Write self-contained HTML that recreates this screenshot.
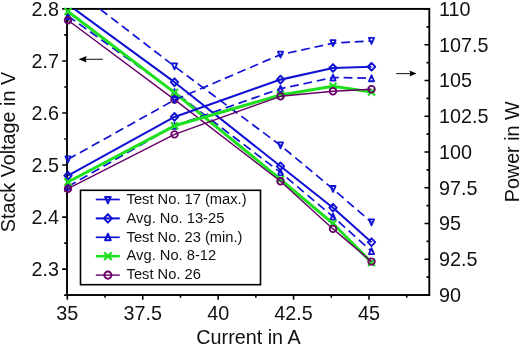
<!DOCTYPE html>
<html><head><meta charset="utf-8"><style>
html,body{margin:0;padding:0;background:#fff;}
svg{display:block;}
</style></head><body>
<svg width="520" height="345" viewBox="0 0 520 345">
<rect width="520" height="345" fill="#fff"/>
<defs><clipPath id="c"><rect x="67.0" y="8.9" width="362.3" height="286.1"/></clipPath></defs>
<rect x="67.0" y="8.9" width="362.3" height="286.1" fill="none" stroke="#000" stroke-width="1.9"/>
<path d="M67.0 295.17h-2.8 M67.0 269.15h-4.8 M67.0 243.12h-2.8 M67.0 217.10h-4.8 M67.0 191.07h-2.8 M67.0 165.05h-4.8 M67.0 139.03h-2.8 M67.0 113.00h-4.8 M67.0 86.97h-2.8 M67.0 60.95h-4.8 M67.0 34.92h-2.8 M67.0 8.90h-4.8 M429.3 295.00h-4.8 M429.3 277.12h-2.8 M429.3 259.25h-4.8 M429.3 241.38h-2.8 M429.3 223.50h-4.8 M429.3 205.62h-2.8 M429.3 187.75h-4.8 M429.3 169.88h-2.8 M429.3 152.00h-4.8 M429.3 134.12h-2.8 M429.3 116.25h-4.8 M429.3 98.38h-2.8 M429.3 80.50h-4.8 M429.3 62.62h-2.8 M429.3 44.75h-4.8 M429.3 26.88h-2.8 M429.3 9.00h-4.8 M67.30 295.0v4.8 M105.01 295.0v2.8 M142.73 295.0v4.8 M180.44 295.0v2.8 M218.15 295.0v4.8 M255.86 295.0v2.8 M293.57 295.0v4.8 M331.29 295.0v2.8 M369.00 295.0v4.8 M406.71 295.0v2.8" stroke="#000" stroke-width="1.6" fill="none"/>
<g clip-path="url(#c)"><polyline points="68.00,-15.50 174.50,66.30 280.50,145.40 333.00,189.00 371.50,222.30" fill="none" stroke="#1212d4" stroke-width="1.7" stroke-dasharray="8.8 4.8" stroke-linejoin="round"/></g>
<path d="M171.90 63.30H177.10L174.50 69.30Z" fill="none" stroke="#1212d4" stroke-width="1.8" stroke-linejoin="round"/>
<path d="M277.90 142.40H283.10L280.50 148.40Z" fill="none" stroke="#1212d4" stroke-width="1.8" stroke-linejoin="round"/>
<path d="M330.40 186.00H335.60L333.00 192.00Z" fill="none" stroke="#1212d4" stroke-width="1.8" stroke-linejoin="round"/>
<path d="M368.90 219.30H374.10L371.50 225.30Z" fill="none" stroke="#1212d4" stroke-width="1.8" stroke-linejoin="round"/>
<g clip-path="url(#c)"><polyline points="68.00,4.40 174.50,82.20 280.50,166.30 333.00,207.70 371.50,242.20" fill="none" stroke="#1212d4" stroke-width="2.1" stroke-linejoin="round"/></g>
<path d="M174.50 78.30L178.20 82.20L174.50 86.10L170.80 82.20Z" fill="none" stroke="#1212d4" stroke-width="1.9" stroke-linejoin="round"/>
<path d="M280.50 162.40L284.20 166.30L280.50 170.20L276.80 166.30Z" fill="none" stroke="#1212d4" stroke-width="1.9" stroke-linejoin="round"/>
<path d="M333.00 203.80L336.70 207.70L333.00 211.60L329.30 207.70Z" fill="none" stroke="#1212d4" stroke-width="1.9" stroke-linejoin="round"/>
<path d="M371.50 238.30L375.20 242.20L371.50 246.10L367.80 242.20Z" fill="none" stroke="#1212d4" stroke-width="1.9" stroke-linejoin="round"/>
<g clip-path="url(#c)"><polyline points="68.00,16.00 174.50,92.00 280.50,172.40 333.00,216.70 371.50,251.20" fill="none" stroke="#1212d4" stroke-width="1.7" stroke-dasharray="8.8 4.8" stroke-linejoin="round"/></g>
<path d="M65.40 19.00H70.60L68.00 13.00Z" fill="none" stroke="#1212d4" stroke-width="1.8" stroke-linejoin="round"/>
<path d="M171.90 95.00H177.10L174.50 89.00Z" fill="none" stroke="#1212d4" stroke-width="1.8" stroke-linejoin="round"/>
<path d="M277.90 175.40H283.10L280.50 169.40Z" fill="none" stroke="#1212d4" stroke-width="1.8" stroke-linejoin="round"/>
<path d="M330.40 219.70H335.60L333.00 213.70Z" fill="none" stroke="#1212d4" stroke-width="1.8" stroke-linejoin="round"/>
<path d="M368.90 254.20H374.10L371.50 248.20Z" fill="none" stroke="#1212d4" stroke-width="1.8" stroke-linejoin="round"/>
<g clip-path="url(#c)"><polyline points="68.00,11.50 174.50,92.60 280.50,179.30 333.00,223.50 371.50,262.50" fill="none" stroke="#1ee01e" stroke-width="3.0" stroke-linejoin="round"/></g>
<path d="M64.50 8.00L71.50 15.00M71.50 8.00L64.50 15.00" stroke="#1ee01e" stroke-width="2.1"/>
<path d="M171.00 89.10L178.00 96.10M178.00 89.10L171.00 96.10" stroke="#1ee01e" stroke-width="2.1"/>
<path d="M277.00 175.80L284.00 182.80M284.00 175.80L277.00 182.80" stroke="#1ee01e" stroke-width="2.1"/>
<path d="M329.50 220.00L336.50 227.00M336.50 220.00L329.50 227.00" stroke="#1ee01e" stroke-width="2.1"/>
<path d="M368.00 259.00L375.00 266.00M375.00 259.00L368.00 266.00" stroke="#1ee01e" stroke-width="2.1"/>
<g clip-path="url(#c)"><polyline points="68.00,20.20 174.50,99.60 280.50,181.30 333.00,228.90 371.50,261.60" fill="none" stroke="#680068" stroke-width="1.4" stroke-linejoin="round"/></g>
<circle cx="68.00" cy="20.20" r="3.3" fill="none" stroke="#680068" stroke-width="1.8"/>
<circle cx="174.50" cy="99.60" r="3.3" fill="none" stroke="#680068" stroke-width="1.8"/>
<circle cx="280.50" cy="181.30" r="3.3" fill="none" stroke="#680068" stroke-width="1.8"/>
<circle cx="333.00" cy="228.90" r="3.3" fill="none" stroke="#680068" stroke-width="1.8"/>
<circle cx="371.50" cy="261.60" r="3.3" fill="none" stroke="#680068" stroke-width="1.8"/>
<g clip-path="url(#c)"><polyline points="68.00,159.30 174.50,100.00 280.50,54.60 333.00,43.20 371.50,40.90" fill="none" stroke="#1212d4" stroke-width="1.7" stroke-dasharray="8.8 4.8" stroke-linejoin="round"/></g>
<path d="M65.40 156.30H70.60L68.00 162.30Z" fill="none" stroke="#1212d4" stroke-width="1.8" stroke-linejoin="round"/>
<path d="M171.90 97.00H177.10L174.50 103.00Z" fill="none" stroke="#1212d4" stroke-width="1.8" stroke-linejoin="round"/>
<path d="M277.90 51.60H283.10L280.50 57.60Z" fill="none" stroke="#1212d4" stroke-width="1.8" stroke-linejoin="round"/>
<path d="M330.40 40.20H335.60L333.00 46.20Z" fill="none" stroke="#1212d4" stroke-width="1.8" stroke-linejoin="round"/>
<path d="M368.90 37.90H374.10L371.50 43.90Z" fill="none" stroke="#1212d4" stroke-width="1.8" stroke-linejoin="round"/>
<g clip-path="url(#c)"><polyline points="68.00,175.70 174.50,116.90 280.50,79.60 333.00,68.00 371.50,66.75" fill="none" stroke="#1212d4" stroke-width="2.1" stroke-linejoin="round"/></g>
<path d="M68.00 171.80L71.70 175.70L68.00 179.60L64.30 175.70Z" fill="none" stroke="#1212d4" stroke-width="1.9" stroke-linejoin="round"/>
<path d="M174.50 113.00L178.20 116.90L174.50 120.80L170.80 116.90Z" fill="none" stroke="#1212d4" stroke-width="1.9" stroke-linejoin="round"/>
<path d="M280.50 75.70L284.20 79.60L280.50 83.50L276.80 79.60Z" fill="none" stroke="#1212d4" stroke-width="1.9" stroke-linejoin="round"/>
<path d="M333.00 64.10L336.70 68.00L333.00 71.90L329.30 68.00Z" fill="none" stroke="#1212d4" stroke-width="1.9" stroke-linejoin="round"/>
<path d="M371.50 62.85L375.20 66.75L371.50 70.65L367.80 66.75Z" fill="none" stroke="#1212d4" stroke-width="1.9" stroke-linejoin="round"/>
<g clip-path="url(#c)"><polyline points="68.00,186.50 174.50,125.80 280.50,88.70 333.00,77.50 371.50,78.25" fill="none" stroke="#1212d4" stroke-width="1.7" stroke-dasharray="8.8 4.8" stroke-linejoin="round"/></g>
<path d="M65.40 189.50H70.60L68.00 183.50Z" fill="none" stroke="#1212d4" stroke-width="1.8" stroke-linejoin="round"/>
<path d="M171.90 128.80H177.10L174.50 122.80Z" fill="none" stroke="#1212d4" stroke-width="1.8" stroke-linejoin="round"/>
<path d="M277.90 91.70H283.10L280.50 85.70Z" fill="none" stroke="#1212d4" stroke-width="1.8" stroke-linejoin="round"/>
<path d="M330.40 80.50H335.60L333.00 74.50Z" fill="none" stroke="#1212d4" stroke-width="1.8" stroke-linejoin="round"/>
<path d="M368.90 81.25H374.10L371.50 75.25Z" fill="none" stroke="#1212d4" stroke-width="1.8" stroke-linejoin="round"/>
<g clip-path="url(#c)"><polyline points="68.00,182.00 174.50,125.80 280.50,95.00 333.00,86.25 371.50,92.00" fill="none" stroke="#1ee01e" stroke-width="3.0" stroke-linejoin="round"/></g>
<path d="M64.50 178.50L71.50 185.50M71.50 178.50L64.50 185.50" stroke="#1ee01e" stroke-width="2.1"/>
<path d="M171.00 122.30L178.00 129.30M178.00 122.30L171.00 129.30" stroke="#1ee01e" stroke-width="2.1"/>
<path d="M277.00 91.50L284.00 98.50M284.00 91.50L277.00 98.50" stroke="#1ee01e" stroke-width="2.1"/>
<path d="M329.50 82.75L336.50 89.75M336.50 82.75L329.50 89.75" stroke="#1ee01e" stroke-width="2.1"/>
<path d="M368.00 88.50L375.00 95.50M375.00 88.50L368.00 95.50" stroke="#1ee01e" stroke-width="2.1"/>
<g clip-path="url(#c)"><polyline points="68.00,188.70 174.50,134.40 280.50,96.30 333.00,91.25 371.50,89.25" fill="none" stroke="#680068" stroke-width="1.4" stroke-linejoin="round"/></g>
<circle cx="68.00" cy="188.70" r="3.3" fill="none" stroke="#680068" stroke-width="1.8"/>
<circle cx="174.50" cy="134.40" r="3.3" fill="none" stroke="#680068" stroke-width="1.8"/>
<circle cx="280.50" cy="96.30" r="3.3" fill="none" stroke="#680068" stroke-width="1.8"/>
<circle cx="333.00" cy="91.25" r="3.3" fill="none" stroke="#680068" stroke-width="1.8"/>
<circle cx="371.50" cy="89.25" r="3.3" fill="none" stroke="#680068" stroke-width="1.8"/>
<g font-family="'Liberation Sans', Arial, sans-serif" font-size="19.75" fill="#111"><text x="59" y="15.70" text-anchor="end">2.8</text><text x="59" y="67.75" text-anchor="end">2.7</text><text x="59" y="119.80" text-anchor="end">2.6</text><text x="59" y="171.85" text-anchor="end">2.5</text><text x="59" y="223.90" text-anchor="end">2.4</text><text x="59" y="275.95" text-anchor="end">2.3</text><text x="439" y="301.80">90</text><text x="439" y="266.05">92.5</text><text x="439" y="230.30">95</text><text x="439" y="194.55">97.5</text><text x="439" y="158.80">100</text><text x="439" y="123.05">102.5</text><text x="439" y="87.30">105</text><text x="439" y="51.55">107.5</text><text x="439" y="15.80">110</text><text x="67.30" y="319.5" text-anchor="middle">35</text><text x="142.73" y="319.5" text-anchor="middle">37.5</text><text x="218.15" y="319.5" text-anchor="middle">40</text><text x="293.57" y="319.5" text-anchor="middle">42.5</text><text x="369.00" y="319.5" text-anchor="middle">45</text><text x="248.5" y="343.5" text-anchor="middle">Current in A</text><text transform="translate(14.7 152.1) rotate(-90)" text-anchor="middle">Stack Voltage in V</text><text transform="translate(518.8 151.8) rotate(-90)" text-anchor="middle">Power in W</text></g>
<path d="M85 59.3H102.8" stroke="#222" stroke-width="1.1"/><path d="M78.6 59.3L86.6 56.1L85.6 59.3L86.6 62.5Z" fill="#000"/>
<path d="M396.2 73.6H411" stroke="#222" stroke-width="1.1"/><path d="M416.5 73.6L409.5 70.6L410.4 73.6L409.5 76.6Z" fill="#000"/>
<rect x="80.5" y="190.3" width="180" height="94.4" fill="#fff" stroke="#000" stroke-width="1.6"/>
<path d="M95.8 199.50H119.8" stroke="#1212d4" stroke-width="1.7"/>
<g transform="translate(107.9 200.20) scale(1.08)"><path d="M-2.60 -3.00H2.60L0.00 3.00Z" fill="none" stroke="#1212d4" stroke-width="1.8" stroke-linejoin="round"/></g>
<text x="126.6" y="203.70" font-family="'Liberation Sans', Arial, sans-serif" font-size="14.7" fill="#111">Test No. 17 (max.)</text>
<path d="M95.8 218.40H119.8" stroke="#1212d4" stroke-width="2.1"/>
<g transform="translate(107.9 218.40) scale(1.08)"><path d="M0.00 -3.90L3.70 0.00L0.00 3.90L-3.70 0.00Z" fill="none" stroke="#1212d4" stroke-width="1.9" stroke-linejoin="round"/></g>
<text x="126.6" y="222.60" font-family="'Liberation Sans', Arial, sans-serif" font-size="14.7" fill="#111">Avg. No. 13-25</text>
<path d="M95.8 237.30H119.8" stroke="#1212d4" stroke-width="1.7"/>
<g transform="translate(107.9 237.00) scale(1.08)"><path d="M-2.60 3.00H2.60L0.00 -3.00Z" fill="none" stroke="#1212d4" stroke-width="1.8" stroke-linejoin="round"/></g>
<text x="126.6" y="241.50" font-family="'Liberation Sans', Arial, sans-serif" font-size="14.7" fill="#111">Test No. 23 (min.)</text>
<path d="M95.8 256.20H119.8" stroke="#1ee01e" stroke-width="2.6"/>
<g transform="translate(107.9 256.20) scale(1.08)"><path d="M-3.50 -3.50L3.50 3.50M3.50 -3.50L-3.50 3.50" stroke="#1ee01e" stroke-width="2.1"/></g>
<text x="126.6" y="260.40" font-family="'Liberation Sans', Arial, sans-serif" font-size="14.7" fill="#111">Avg. No. 8-12</text>
<path d="M95.8 275.10H119.8" stroke="#680068" stroke-width="1.4"/>
<g transform="translate(107.9 275.10) scale(1.08)"><circle cx="0.00" cy="0.00" r="3.3" fill="none" stroke="#680068" stroke-width="1.8"/></g>
<text x="126.6" y="279.30" font-family="'Liberation Sans', Arial, sans-serif" font-size="14.7" fill="#111">Test No. 26</text>
</svg>
</body></html>
